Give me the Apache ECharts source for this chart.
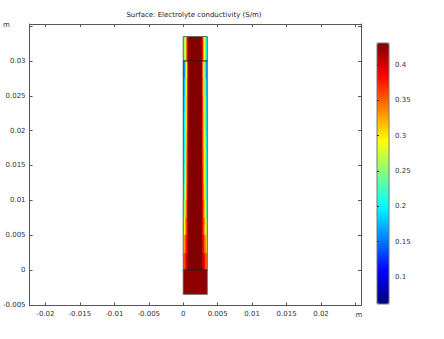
<!DOCTYPE html>
<html><head><meta charset="utf-8">
<script src="https://cdn.jsdelivr.net/npm/echarts@6/dist/echarts.min.js"></script>
<style>html,body{margin:0;padding:0;background:#fff}#c{width:444px;height:339px}</style>
</head><body><div id="c"></div>
<script>
const titleText = 'Surface: Electrolyte conductivity (S/m)';
const unitLabel = 'm';
const xTicks = [-0.02, -0.015, -0.01, -0.005, 0, 0.005, 0.01, 0.015, 0.02, 0.025];
const xLabels = [-0.02, -0.015, -0.01, -0.005, 0, 0.005, 0.01, 0.015, 0.02];
const yTicks = [-0.005, 0, 0.005, 0.01, 0.015, 0.02, 0.025, 0.03, 0.035];
const yLabels = [-0.005, 0, 0.005, 0.01, 0.015, 0.02, 0.025, 0.03];
const colorTicks = [0.1, 0.15, 0.2, 0.25, 0.3, 0.35, 0.4];
const xRange = [-0.0223, 0.0258];
const yRange = [-0.0051, 0.0353];
const colorRange = [0.0618, 0.431];
const jetColors = ['#00007f', '#0000ff', '#0080ff', '#00ffff', '#80ff80', '#ffff00', '#ff8000', '#ff0000', '#7f0000'];

// cell edges of the sampled field (m)
const xEdges = [0, 0.00015, 0.0003, 0.00045, 0.0006, 0.00075, 0.0009, 0.0026, 0.00275, 0.0029, 0.00305, 0.0032, 0.00335, 0.0035];
const yEdges = [-0.0035, 0, 0.0025, 0.005, 0.0075, 0.01, 0.0125, 0.015, 0.0175, 0.02, 0.0225, 0.025, 0.0275, 0.03, 0.0335];
// conductivity (S/m), one row per y band, bottom to top
const conductivity = [
  [0.425, 0.425, 0.425, 0.425, 0.425, 0.425, 0.425, 0.425, 0.425, 0.425, 0.425, 0.425, 0.425],
  [0.34, 0.36, 0.38, 0.40, 0.415, 0.425, 0.43, 0.425, 0.41, 0.40, 0.38, 0.36, 0.35],
  [0.30, 0.33, 0.36, 0.38, 0.405, 0.425, 0.43, 0.425, 0.40, 0.38, 0.35, 0.33, 0.31],
  [0.26, 0.29, 0.33, 0.36, 0.40, 0.425, 0.43, 0.425, 0.39, 0.36, 0.33, 0.30, 0.27],
  [0.22, 0.26, 0.31, 0.35, 0.395, 0.425, 0.43, 0.425, 0.39, 0.35, 0.31, 0.27, 0.24],
  [0.19, 0.24, 0.29, 0.34, 0.39, 0.425, 0.43, 0.425, 0.38, 0.34, 0.30, 0.26, 0.22],
  [0.18, 0.22, 0.28, 0.33, 0.385, 0.425, 0.43, 0.425, 0.38, 0.33, 0.29, 0.25, 0.21],
  [0.17, 0.21, 0.27, 0.33, 0.38, 0.425, 0.43, 0.425, 0.37, 0.33, 0.29, 0.25, 0.21],
  [0.16, 0.20, 0.26, 0.32, 0.38, 0.425, 0.43, 0.425, 0.37, 0.32, 0.28, 0.24, 0.20],
  [0.15, 0.20, 0.26, 0.31, 0.375, 0.42, 0.43, 0.42, 0.37, 0.32, 0.27, 0.23, 0.19],
  [0.14, 0.19, 0.25, 0.31, 0.37, 0.42, 0.43, 0.42, 0.37, 0.31, 0.27, 0.23, 0.19],
  [0.13, 0.18, 0.24, 0.30, 0.37, 0.42, 0.43, 0.42, 0.36, 0.31, 0.26, 0.22, 0.18],
  [0.10, 0.16, 0.23, 0.29, 0.36, 0.42, 0.43, 0.42, 0.36, 0.30, 0.25, 0.20, 0.16],
  [0.22, 0.26, 0.30, 0.34, 0.39, 0.425, 0.43, 0.425, 0.38, 0.32, 0.28, 0.24, 0.20]
];
const outline = [[0, -0.0035], [0.0035, -0.0035], [0.0035, 0.0335], [0, 0.0335], [0, -0.0035]];
const interfaceBottom = [[0, 0], [0.0035, 0]];
const interfaceTop = [[0, 0.03], [0.0035, 0.03]];

const fieldData = [];
conductivity.forEach((row, i) => {
  row.forEach((v, j) => {
    fieldData.push([xEdges[j], xEdges[j + 1], yEdges[i], yEdges[i + 1], v]);
  });
});

const FONT = 'DejaVu Sans';
const fmt = v => String(parseFloat(Number(v).toFixed(6)));
const lineColor = '#555';

const chart = echarts.init(document.getElementById('c'), null, {renderer: 'svg'});
chart.setOption({
  backgroundColor: '#fff',
  animation: false,
  grid: [
    {left: 27, top: 24, width: 334, height: 281.5},
    {left: 377, top: 43, width: 12, height: 261, show: true, z: 10, backgroundColor: 'transparent', borderColor: '#777', borderWidth: 1}
  ],
  xAxis: [
    {type: 'value', gridIndex: 0, min: xRange[0], max: xRange[1], position: 'bottom',
     axisLine: {onZero: false, lineStyle: {color: lineColor}}, splitLine: {show: false},
     axisTick: {inside: true, length: 3, customValues: xTicks, lineStyle: {color: lineColor}},
     axisLabel: {customValues: xLabels, formatter: fmt, fontFamily: FONT, fontSize: 7, color: '#333', margin: 5}},
    {type: 'value', gridIndex: 0, min: xRange[0], max: xRange[1], position: 'top',
     axisLine: {onZero: false, lineStyle: {color: lineColor}}, splitLine: {show: false},
     axisTick: {inside: true, length: 3, customValues: xTicks, lineStyle: {color: lineColor}},
     axisLabel: {show: false}},
    {type: 'value', gridIndex: 1, show: false, min: 0, max: 1}
  ],
  yAxis: [
    {type: 'value', gridIndex: 0, min: yRange[0], max: yRange[1], position: 'left',
     axisLine: {onZero: false, lineStyle: {color: lineColor}}, splitLine: {show: false},
     axisTick: {inside: true, length: 3, customValues: yTicks, lineStyle: {color: lineColor}},
     axisLabel: {customValues: yLabels, formatter: fmt, fontFamily: FONT, fontSize: 7, color: '#333', margin: 4}},
    {type: 'value', gridIndex: 0, min: yRange[0], max: yRange[1], position: 'right',
     axisLine: {onZero: false, lineStyle: {color: lineColor}}, splitLine: {show: false},
     axisTick: {inside: true, length: 3, customValues: yTicks, lineStyle: {color: lineColor}},
     axisLabel: {show: false}},
    {type: 'value', gridIndex: 1, min: colorRange[0], max: colorRange[1], position: 'right', z: 11,
     axisLine: {show: false, onZero: false}, splitLine: {show: false},
     axisTick: {show: false},
     axisLabel: {customValues: colorTicks, formatter: fmt, fontFamily: FONT, fontSize: 7, color: '#333', margin: 6}},
    {type: 'value', gridIndex: 1, min: colorRange[0], max: colorRange[1], position: 'left', z: 11,
     axisLine: {show: false, onZero: false}, splitLine: {show: false},
     axisTick: {inside: true, length: 2, customValues: colorTicks, lineStyle: {color: '#333'}},
     axisLabel: {show: false}}
  ],
  visualMap: {
    type: 'continuous', min: colorRange[0], max: colorRange[1], dimension: 4, seriesIndex: 0,
    calculable: false, hoverLink: false, orient: 'vertical', itemWidth: 12, itemHeight: 261,
    left: 377, top: 43, padding: 0, text: null,
    inRange: {color: jetColors}
  },
  graphic: [
    {type: 'text', x: 194, y: 15, style: {text: titleText, fontFamily: FONT, fontSize: 7, fill: '#222', textAlign: 'center', textVerticalAlign: 'middle'}},
    {type: 'text', x: 3, y: 25, style: {text: unitLabel, fontFamily: FONT, fontSize: 7, fill: '#333', textAlign: 'left', textVerticalAlign: 'middle'}},
    {type: 'text', x: 359, y: 315, style: {text: unitLabel, fontFamily: FONT, fontSize: 7, fill: '#333', textAlign: 'center', textVerticalAlign: 'middle'}}
  ],
  series: [
    {type: 'custom', xAxisIndex: 0, yAxisIndex: 0, data: fieldData, encode: {x: [0, 1], y: [2, 3]}, silent: true,
     renderItem: function (params, api) {
       const p0 = api.coord([api.value(0), api.value(3)]);
       const p1 = api.coord([api.value(1), api.value(2)]);
       const x0 = Math.round(p0[0]), x1 = Math.round(p1[0]);
       const y0 = Math.round(p0[1]), y1 = Math.round(p1[1]);
       return {type: 'rect', shape: {x: x0, y: y0, width: Math.max(1, x1 - x0), height: y1 - y0},
               style: {fill: api.visual('color'), stroke: null}};
     }},
    {type: 'line', xAxisIndex: 0, yAxisIndex: 0, data: outline, symbol: 'none', silent: true, z: 5,
     lineStyle: {color: '#666', width: 1}},
    {type: 'line', xAxisIndex: 0, yAxisIndex: 0, data: interfaceBottom, symbol: 'none', silent: true, z: 5,
     lineStyle: {color: '#222', width: 1}},
    {type: 'line', xAxisIndex: 0, yAxisIndex: 0, data: interfaceTop, symbol: 'none', silent: true, z: 5,
     lineStyle: {color: '#222', width: 1}}
  ]
});
</script></body></html>
